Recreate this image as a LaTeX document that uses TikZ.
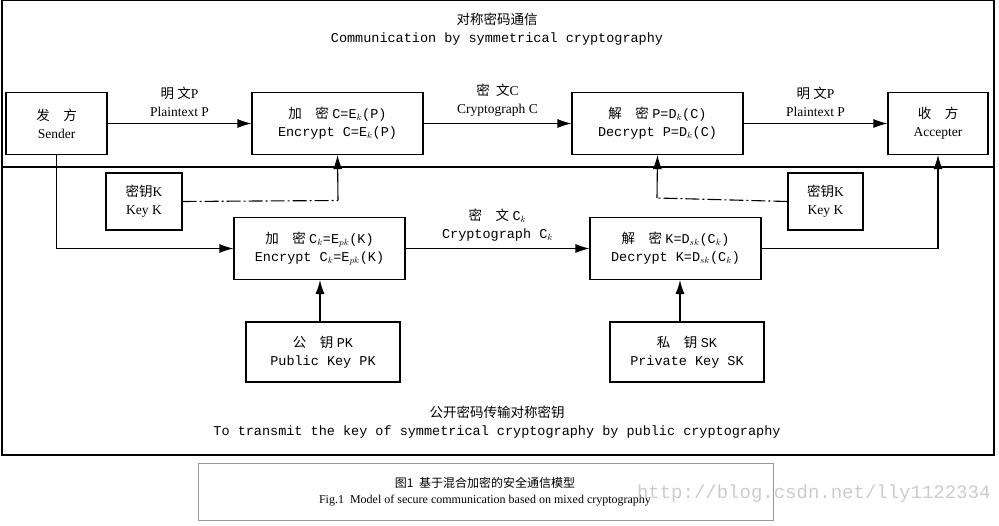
\documentclass[tikz,border=0pt]{standalone}
\usepackage{fontspec}
\setmainfont{Liberation Serif}
\newfontfamily\cjk{Noto Sans CJK SC}
\newfontfamily\mono{Liberation Mono}
\usetikzlibrary{arrows.meta}
\begin{document}
\begin{tikzpicture}[x=1pt,y=-1pt,
  box/.style={draw,line width=1.1pt,minimum width=#1,minimum height=62pt,align=center,inner sep=1pt,font=\fontsize{13.5}{18}\selectfont},
  box/.default=100pt,
  arr/.style={line width=1.1pt,-{Latex[length=14pt,width=9pt]}},
  dd/.style={line width=1.1pt,dash pattern=on 14pt off 3pt on 2pt off 3pt},
  lab/.style={align=center,font=\fontsize{13.5}{18}\selectfont}]
\useasboundingbox (0,0) rectangle (999,526);
\draw[line width=1.1pt] (2,0) rectangle (994,455);
\draw[line width=1.1pt] (2,167) -- (994,167);
\node[lab] (t1) at (497,29) {{\cjk 对称密码通信}\\{\mono Communication by symmetrical cryptography}};
\node[lab] (t2) at (497,422) {{\cjk 公开密码传输对称密钥}\\{\mono To transmit the key of symmetrical cryptography  by public cryptography}};
\node[box=101pt] (s) at (56.5,123.5) {{\cjk 发\quad 方}\\Sender};
\node[box=171pt] (e1) at (337.5,123.5) {{\cjk 加\quad 密} {\mono C=E$_k$(P)}\\{\mono Encrypt C=E$_k$(P)}};
\node[box=171pt] (d1) at (657.5,123.5) {{\cjk 解\quad 密} {\mono P=D$_k$(C)}\\{\mono Decrypt P=D$_k$(C)}};
\node[box=100pt] (a) at (938,123.5) {{\cjk 收\quad 方}\\Accepter};
\node[box=76pt,minimum height=57pt] (k1) at (144,201.5) {{\cjk 密钥}K\\Key K};
\node[box=75pt,minimum height=57pt] (k2) at (825.5,201.5) {{\cjk 密钥}K\\Key K};
\node[box=171pt] (e2) at (319.5,248.5) {{\cjk 加\quad 密} {\mono C$_k$=E$_{pk}$(K)}\\{\mono Encrypt C$_k$=E$_{pk}$(K)}};
\node[box=171pt] (d2) at (675.5,248.5) {{\cjk 解\quad 密} {\mono K=D$_{sk}$(C$_k$)}\\{\mono Decrypt K=D$_{sk}$(C$_k$)}};
\node[box=154pt,minimum height=60pt] (pk) at (323,352) {{\cjk 公\quad 钥} {\mono PK}\\{\mono Public Key PK}};
\node[box=154pt,minimum height=60pt] (sk) at (687,352) {{\cjk 私\quad 钥} {\mono SK}\\{\mono Private Key SK}};
\draw[arr] (s) -- (e1) node[lab,midway,above=3pt] {{\cjk 明 文}P\\Plaintext P};
\draw[arr] (e1) -- (d1) node[lab,midway,above=3pt] {{\cjk 密\ \ 文}C\\Cryptograph C};
\draw[arr] (d1) -- (a) node[lab,midway,above=3pt] {{\cjk 明 文}P\\Plaintext P};
\draw[arr] (s.south) |- (e2.west);
\draw[arr] (e2) -- (d2) node[lab,midway,above=3pt] {{\cjk 密\quad 文} {\mono C$_k$}\\{\mono Cryptograph C$_k$}};
\draw[arr] (d2.east) -| (a.south);
\draw[dd] (k1.east) -- (338,200.5);
\draw[arr] (338,200.5) -- (e1.south);
\draw[dd] (k2.west) -- (657,198);
\draw[arr] (657,198) -- (d1.south);
\draw[arr] (pk.north -| 320,0) -- (e2.south -| 320,0);
\draw[arr] (sk.north -| 680,0) -- (d2.south -| 680,0);
\draw[line width=0.5pt,black!40] (198,463) rectangle (773,520);
\node[lab,font=\fontsize{12}{16}\selectfont] (cap) at (485,492) {{\cjk 图1\ \ 基于混合加密的安全通信模型}\\Fig.1\ \ Model of secure communication based on mixed cryptography};
\node[font=\fontsize{19}{19}\selectfont\mono,black!20,anchor=east] (wm) at (994,494) {http://blog.csdn.net/lly1122334};
\end{tikzpicture}
\end{document}
